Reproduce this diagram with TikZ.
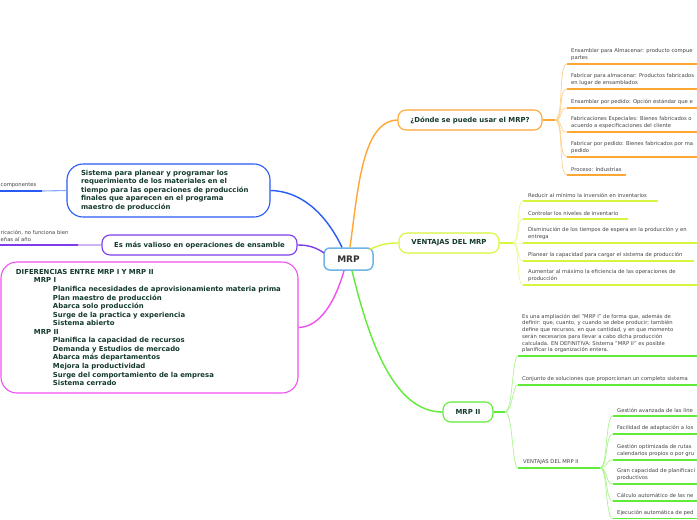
\documentclass[tikz,border=0pt]{standalone}
\usepackage{fontspec}
\setmainfont{DejaVu Sans}
\usetikzlibrary{calc}
\definecolor{txt}{RGB}{20,58,44}
\definecolor{small}{RGB}{68,68,68}
\definecolor{orA}{RGB}{255,166,51}
\definecolor{orL}{RGB}{255,208,140}
\definecolor{ygA}{RGB}{215,245,60}
\definecolor{ygL}{RGB}{232,250,150}
\definecolor{grA}{RGB}{95,235,55}
\definecolor{grL}{RGB}{170,245,140}
\definecolor{blA}{RGB}{40,90,245}
\definecolor{blL}{RGB}{140,170,255}
\definecolor{puA}{RGB}{125,60,235}
\definecolor{puL}{RGB}{205,180,245}
\definecolor{mgA}{RGB}{240,80,240}
\definecolor{mrpB}{RGB}{110,180,230}
\newcommand\topicfont{\bfseries\fontsize{6.9}{8.55}\selectfont}
\newcommand\leaffont{\fontsize{5.25}{6.9}\selectfont}
\tikzset{
 topic/.style={draw, rounded corners=8pt, line width=1.1pt, fill=white, font=\topicfont, text=txt, inner sep=0pt, minimum height=20pt},
 leaf/.style={anchor=south west, inner sep=0pt, font=\leaffont, text=small, align=left},
 uline/.style={line width=1.8pt},
 twig/.style={line width=0.7pt},
 limb/.style={line width=1.4pt},
}
\begin{document}
\begin{tikzpicture}[x=1pt,y=-1pt]
\useasboundingbox (0,0) rectangle (697,520);
\fill[white] (0,0) rectangle (697,520);

% central node
\node[draw=mrpB, line width=1.5pt, rounded corners=6pt, fill=white, minimum width=49pt, minimum height=22pt, inner sep=0pt, text={rgb,255:red,50;green,50;blue,50}, font=\bfseries\fontsize{9}{10}\selectfont] (mrp) at (348.5,259) {MRP};

% main topics
\node[topic, draw=orA, minimum width=144pt] (donde) at (470,120) {¿Dónde se puede usar el MRP?};
\node[topic, draw=ygA, minimum width=100pt] (vent) at (449,243) {VENTAJAS DEL MRP};
\node[topic, draw=grA, minimum width=50pt] (mrp2) at (468,412) {MRP II};
\node[topic, draw=blA, rounded corners=16pt, minimum width=203pt, minimum height=53pt, text width=175pt, inner xsep=14pt, align=left] (sist) at (168.5,190.5)
 {\mbox{Sistema para planear y programar los}\\\mbox{requerimiento de los materiales en el}\\\mbox{tiempo para las operaciones de producción}\\\mbox{finales que aparecen en el programa}\\\mbox{maestro de producción}};
\node[topic, draw=puA, minimum width=195pt] (ens) at (199.5,245) {Es más valioso en operaciones de ensamble};
\node[topic, draw=mgA, rounded corners=16pt, minimum width=297pt, minimum height=131pt, text width=267pt, inner xsep=15pt, align=left] (dif) at (149.5,327.5)
 {\mbox{DIFERENCIAS ENTRE MRP I Y MRP II}\\
  \hspace*{18pt}\mbox{MRP I}\\
  \hspace*{37pt}\mbox{Planifica necesidades de aprovisionamiento materia prima}\\
  \hspace*{37pt}\mbox{Plan maestro de producción}\\
  \hspace*{37pt}\mbox{Abarca solo producción}\\
  \hspace*{37pt}\mbox{Surge de la practica y experiencia}\\
  \hspace*{37pt}\mbox{Sistema abierto}\\
  \hspace*{18pt}\mbox{MRP II}\\
  \hspace*{37pt}\mbox{Planifica la capacidad de recursos}\\
  \hspace*{37pt}\mbox{Demanda y Estudios de mercado}\\
  \hspace*{37pt}\mbox{Abarca más departamentos}\\
  \hspace*{37pt}\mbox{Mejora la productividad}\\
  \hspace*{37pt}\mbox{Surge del comportamiento de la empresa}\\
  \hspace*{37pt}\mbox{Sistema cerrado}};

% main connectors
\draw[limb, orA] ($(mrp.north)+(1.5,0)$) .. controls (358,190) and (362,121) .. (donde.west);
\draw[limb, ygA] ($(mrp.north east)+(-5,2.5)$) .. controls (380,245) and (385,243) .. (vent.west);
\draw[limb, grA] ($(mrp.south)+(3.5,0)$) .. controls (370,345) and (395,412) .. (mrp2.west);
\draw[limb, blA] ($(mrp.north)+(-6.5,0)$) .. controls (325,212) and (300,191) .. (sist.east);
\draw[limb, puA] ($(mrp.west)+(1,-6)$) .. controls (315,247) and (308,245) .. (ens.east);
\draw[limb, mgA] ($(mrp.south)+(-4.5,0)$) .. controls (335,302) and (320,327) .. (dif.east);

% ---- orange leaves
\coordinate (hubO) at (555,120);
\draw[limb, orA] (donde.east) -- (hubO);
\coordinate (o1s) at (567,64);  \coordinate (o1e) at (697,64);
\coordinate (o2s) at (567,89);  \coordinate (o2e) at (697,89);
\coordinate (o3s) at (567,108); \coordinate (o3e) at (697,108);
\coordinate (o4s) at (567,132); \coordinate (o4e) at (697,132);
\coordinate (o5s) at (567,157); \coordinate (o5e) at (697,157);
\coordinate (o6s) at (567,175); \coordinate (o6e) at (626,175);
\node[leaf] (o1) at (571,61) {Ensamblar para Almacenar: producto compue\\partes};
\node[leaf] (o2) at (571,86) {Fabricar para almacenar: Productos fabricados\\en lugar de ensamblados};
\node[leaf] (o3) at (571,105) {Ensamblar por pedido: Opción estándar que e};
\node[leaf] (o4) at (571,129) {Fabricaciones Especiales: Bienes fabricados o\\acuerdo a especificaciones del cliente};
\node[leaf] (o5) at (571,154) {Fabricar por pedido: Bienes fabricados por ma\\pedido};
\node[leaf] (o6) at (571,172) {Proceso: Industrias};
\foreach \i in {1,...,6}{
  \draw[uline, orA] (o\i s) -- (o\i e);
  \draw[twig, orL] (hubO) .. controls +(9,0) and +(-9,0) .. (o\i s);
}

% ---- yellow-green leaves
\coordinate (hubY) at (513,243);
\draw[limb, ygA] (vent.east) -- (hubY);
\coordinate (y1s) at (523,201); \coordinate (y1e) at (658,201);
\coordinate (y2s) at (523,219); \coordinate (y2e) at (628,219);
\coordinate (y3s) at (523,243); \coordinate (y3e) at (697,243);
\coordinate (y4s) at (523,261); \coordinate (y4e) at (694,261);
\coordinate (y5s) at (523,285); \coordinate (y5e) at (697,285);
\node[leaf] (y1) at (528,198) {Reducir al mínimo la inversión en inventarios};
\node[leaf] (y2) at (528,216) {Controlar los niveles de inventario};
\node[leaf] (y3) at (528,240) {Disminución de los tiempos de espera en la producción y en\\entrega};
\node[leaf] (y4) at (528,258) {Planear la capacidad para cargar el sistema de producción};
\node[leaf] (y5) at (528,282) {Aumentar al máximo la eficiencia de las operaciones de\\producción};
\foreach \i in {1,...,5}{
  \draw[uline, ygA] (y\i s) -- (y\i e);
  \draw[twig, ygL] (hubY) .. controls +(7,0) and +(-7,0) .. (y\i s);
}

% ---- green leaves
\coordinate (hubG) at (505,412);
\draw[limb, grA] (mrp2.east) -- (hubG);
\coordinate (g1s) at (518,356); \coordinate (g1e) at (697,356);
\coordinate (g2s) at (518,385); \coordinate (g2e) at (697,385);
\coordinate (g3s) at (518,468); \coordinate (hubG2) at (600,468);
\node[leaf, font=\fontsize{5.25}{6.7}\selectfont] (g1) at (522,353) {Es una ampliación del "MRP I" de forma que, además de\\definir: que, cuanto, y cuando se debe producir; también\\define que recursos, en que cantidad, y en que momento\\serán necesarios para llevar a cabo dicha producción\\calculada. EN DEFINITIVA: Sistema "MRP II" es posible\\planificar la organización entera.};
\node[leaf] (g2) at (522,382) {Conjunto de soluciones que proporcionan un completo sistema};
\node[leaf] (g3) at (523,465) {VENTAJAS DEL MRP II};
\draw[uline, grA] (g1s) -- (g1e);
\draw[uline, grA] (g2s) -- (g2e);
\draw[uline, grA] (g3s) -- (hubG2);
\foreach \i in {1,2,3}{
  \draw[twig, grL] (hubG) .. controls +(8,0) and +(-6,0) .. (g\i s);
}
\coordinate (v1s) at (613,416); \coordinate (v1e) at (697,416);
\coordinate (v2s) at (613,434); \coordinate (v2e) at (697,434);
\coordinate (v3s) at (613,460); \coordinate (v3e) at (697,460);
\coordinate (v4s) at (613,484); \coordinate (v4e) at (697,484);
\coordinate (v5s) at (613,501); \coordinate (v5e) at (697,501);
\coordinate (v6s) at (613,518.5); \coordinate (v6e) at (697,518.5);
\node[leaf] (v1) at (617,413) {Gestión avanzada de las líne};
\node[leaf] (v2) at (617,431) {Facilidad de adaptación a los};
\node[leaf] (v3) at (617,457) {Gestión optimizada de rutas\\calendarios propios o por gru};
\node[leaf] (v4) at (617,481) {Gran capacidad de planificaci\\productivos};
\node[leaf] (v5) at (617,498) {Cálculo automático de las ne};
\node[leaf] (v6) at (617,515.5) {Ejecución automática de ped};
\foreach \i in {1,...,6}{
  \draw[uline, grA] (v\i s) -- (v\i e);
  \draw[twig, grL] (hubG2) .. controls +(8,0) and +(-8,0) .. (v\i s);
}

% ---- left leaves
\coordinate (bE) at (42,191); \coordinate (bS) at (0,191);
\node[leaf] (b1) at (0.5,188) {componentes};
\draw[uline, blA] (bS) -- (bE);
\draw[twig, blL, line width=1.1pt] (sist.west) -- (bE);
\coordinate (pE) at (78,245); \coordinate (pS) at (0,245);
\node[leaf] (p1) at (0.5,242) {ricación, no funciona bien\\eñas al año};
\draw[uline, puA] (pS) -- (pE);
\draw[twig, puL, line width=1.1pt] (ens.west) -- (pE);
\end{tikzpicture}
\end{document}
